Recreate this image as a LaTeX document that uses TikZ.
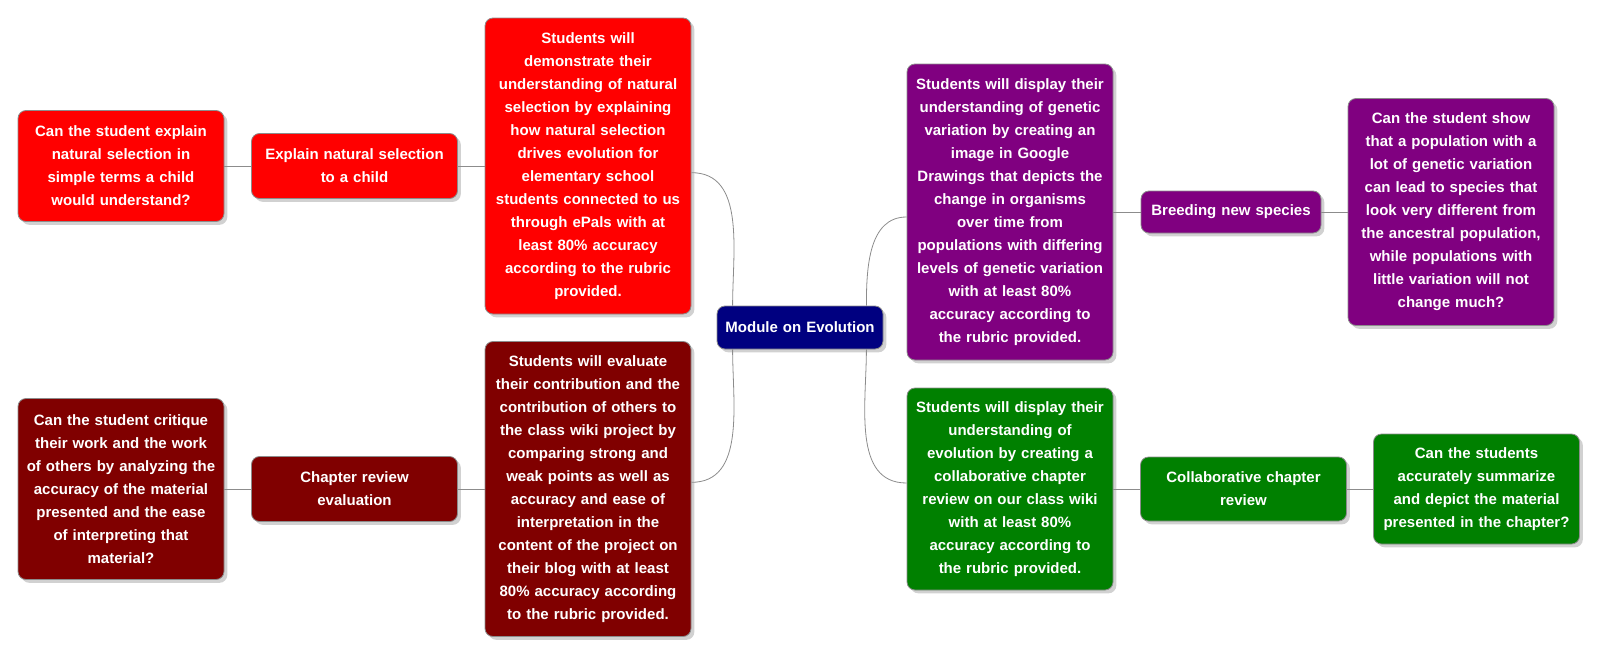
\documentclass[tikz,border=0pt]{standalone}
\usepackage{fontspec}
\setmainfont{Liberation Sans}
\usetikzlibrary{shadows}

\definecolor{evored}{HTML}{FF0000}
\definecolor{evomaroon}{HTML}{800000}
\definecolor{evopurple}{HTML}{800080}
\definecolor{evogreen}{HTML}{008000}
\definecolor{evonavy}{HTML}{000080}
\definecolor{evoline}{HTML}{8C8C8C}

\begin{document}
\begin{tikzpicture}[x=0.75pt, y=-0.75pt,
		topic/.style={rectangle, rounded corners=6pt, draw=evoline, line width=0.6pt,
			text=white, align=center, inner xsep=4pt, inner ysep=2pt,
			font=\bfseries\fontsize{11.25}{17.25}\selectfont,
			drop shadow={shadow xshift=2.5pt, shadow yshift=-2.5pt, fill=black, opacity=0.18}},
		wide/.style={text width=146.5pt},
		link/.style={draw=evoline, line width=0.6pt}]
				\useasboundingbox (0,0) rectangle (1600,657);
				% centre
				\node (c) at (800,327.5) [topic, fill=evonavy, text width=116.5pt,
				minimum height=32.25pt] {Module on Evolution};
				% upper left branch
				\node (r1) at (588,166) [topic, wide, fill=evored, minimum height=222pt]
				{Students will\\demonstrate their\\understanding of natural\\selection by explaining\\how natural selection\\drives evolution for\\elementary school\\students connected to us\\through ePals with at\\least 80\% accuracy\\according to the rubric\\provided.};
				\node (r2) at (354.5,166) [topic, wide, fill=evored, minimum height=48.75pt]
				{Explain natural selection\\to a child};
				\node (r3) at (121,166) [topic, wide, fill=evored, minimum height=83.25pt]
				{Can the student explain\\natural selection in\\simple terms a child\\would understand?};
				% lower left branch
				\node (m1) at (588,489) [topic, wide, fill=evomaroon, minimum height=221.25pt]
				{Students will evaluate\\their contribution and the\\contribution of others to\\the class wiki project by\\comparing strong and\\weak points as well as\\accuracy and ease of\\interpretation in the\\content of the project on\\their blog with at least\\80\% accuracy according\\to the rubric provided.};
				\node (m2) at (354.5,489) [topic, wide, fill=evomaroon, minimum height=48.75pt]
				{Chapter review\\evaluation};
				\node (m3) at (121,489) [topic, wide, fill=evomaroon, minimum height=135.75pt]
				{Can the student critique\\their work and the work\\of others by analyzing the\\accuracy of the material\\presented and the ease\\of interpreting that\\material?};
				% upper right branch
				\node (p1) at (1010,212) [topic, wide, fill=evopurple, minimum height=222pt]
				{Students will display their\\understanding of genetic\\variation by creating an\\image in Google\\Drawings that depicts the\\change in organisms\\over time from\\populations with differing\\levels of genetic variation\\with at least 80\%\\accuracy according to\\the rubric provided.};
				\node (p2) at (1231,212) [topic, fill=evopurple, text width=127pt,
				minimum height=31.5pt] {Breeding new species};
				\node (p3) at (1451,212) [topic, wide, fill=evopurple, minimum height=170.25pt]
				{Can the student show\\that a population with a\\lot of genetic variation\\can lead to species that\\look very different from\\the ancestral population,\\while populations with\\little variation will not\\change much?};
				% lower right branch
				\node (g1) at (1010,489) [topic, wide, fill=evogreen, minimum height=151.5pt]
				{Students will display their\\understanding of\\evolution by creating a\\collaborative chapter\\review on our class wiki\\with at least 80\%\\accuracy according to\\the rubric provided.};
				\node (g2) at (1243.5,489) [topic, wide, fill=evogreen, minimum height=48pt]
				{Collaborative chapter\\review};
				\node (g3) at (1476.5,489) [topic, wide, fill=evogreen, minimum height=82.5pt]
				{Can the students\\accurately summarize\\and depict the material\\presented in the chapter?};
				% connectors
				\draw [link] ([xshift=12pt]c.north west) to[out=90, in=0] ([yshift=-5pt]r1.east);
				\draw [link] ([xshift=12pt]c.south west) to[out=-90, in=0] ([yshift=5pt]m1.east);
				\draw [link] ([xshift=-12.75pt]c.north east) to[out=90, in=180] ([yshift=-3.75pt]p1.west);
				\draw [link] ([xshift=-12.75pt]c.south east) to[out=-90, in=180] ([yshift=4.5pt]g1.west);
				\draw [link] (r1) -- (r2);
				\draw [link] (r2) -- (r3);
				\draw [link] (m1) -- (m2);
				\draw [link] (m2) -- (m3);
				\draw [link] (p1) -- (p2);
				\draw [link] (p2) -- (p3);
				\draw [link] (g1) -- (g2);
				\draw [link] (g2) -- (g3);
			\end{tikzpicture}
\end{document}
